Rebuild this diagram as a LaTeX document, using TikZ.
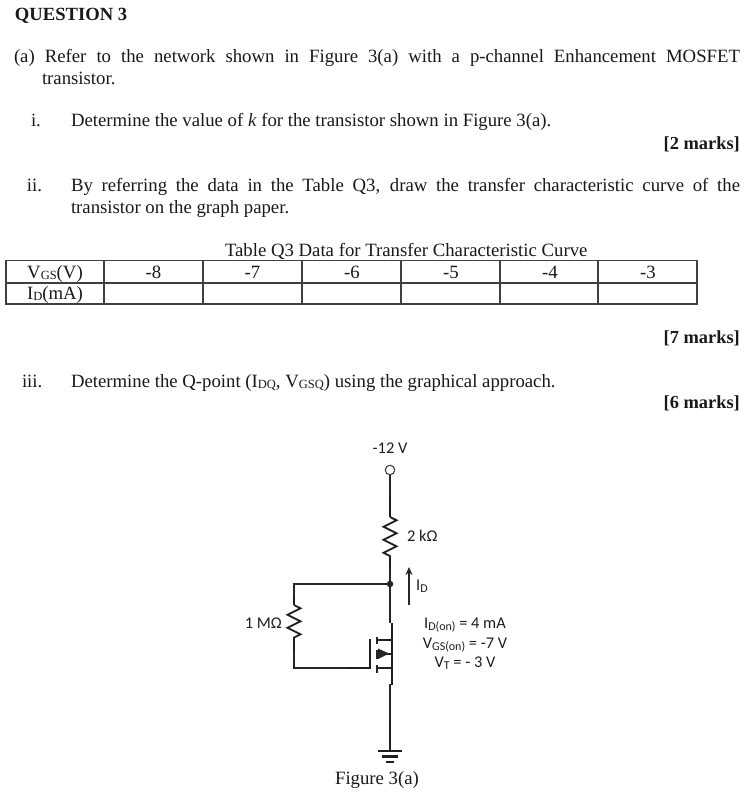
\documentclass[tikz,border=0pt]{standalone}
\usepackage{fontspec}
\setmainfont{Liberation Serif}
\newfontfamily\circfont{Carlito}
\usetikzlibrary{decorations.pathmorphing,arrows.meta}
\newcommand{\tsub}[1]{\raisebox{-0.15ex}{\fontsize{12.5}{14}\selectfont #1}}
\newcommand{\csub}[1]{\raisebox{-0.35ex}{\fontsize{12}{13}\selectfont #1}}
\tikzset{
  txt/.style={anchor=base west,inner sep=0pt,outer sep=0pt,font=\fontsize{18.75}{22}\selectfont,text=black!90},
  marksnode/.style={anchor=base east,inner sep=0pt,font=\fontsize{18.4}{22}\bfseries\selectfont,text=black!90},
  cell/.style={anchor=base,inner sep=0pt,font=\fontsize{18.75}{22}\selectfont,text=black!90},
  clab/.style={anchor=base,inner sep=0pt,font=\circfont\fontsize{16.4}{19}\selectfont,text=black!88},
  grid/.style={draw=black!75,line width=1.2pt},
  wire/.style={draw=black!85,line width=1.4pt},
  thick wire/.style={draw=black!88,line width=2pt},
  res/.style={draw=black!88,line width=1.8pt,decorate,decoration={zigzag,segment length=13pt,amplitude=6.5pt}}
}
\begin{document}
\begin{tikzpicture}[x=1pt,y=-1pt]
\useasboundingbox (0,0) rectangle (744,793);
\fill[white] (0,0) rectangle (744,793);
% text
\node[txt,font=\fontsize{18.6}{22}\bfseries\selectfont] (q) at (15,20) {QUESTION 3};
\node[txt] (a1) at (14,62.5) {\makebox[726pt][s]{(a) Refer to the network shown in Figure 3(a) with a p-channel Enhancement MOSFET}};
\node[txt] (a2) at (42,84.5) {transistor.};
\node[txt] (i1) at (31,126.5) {i.};
\node[txt] (i2) at (71,126.5) {Determine the value of \textit{k} for the transistor shown in Figure 3(a).};
\node[marksnode] (m1) at (740,149.5) {[2 marks]};
\node[txt] (ii1) at (27,191.5) {ii.};
\node[txt] (ii2) at (71,191.5) {\makebox[669pt][s]{By referring the data in the Table Q3, draw the transfer characteristic curve of the}};
\node[txt] (ii3) at (71,213.5) {transistor on the graph paper.};
\node[txt] (cap) at (225,256.5) {Table Q3 Data for Transfer Characteristic Curve};
\node[marksnode] (m2) at (740,343.5) {[7 marks]};
\node[txt] (iii1) at (22,387.5) {iii.};
\node[txt] (iii2) at (71,387.5) {Determine the Q-point (I\tsub{DQ}, V\tsub{GSQ}) using the graphical approach.};
\node[marksnode] (m3) at (740,408.5) {[6 marks]};
% table
\draw[grid] (6,260.5) rectangle (697,304);
\draw[grid] (6,283) -- (697,283);
\foreach \x in {104,203,302,401,500,598} \draw[grid] (\x,260.5) -- (\x,304);
\node[cell] (v) at (55,278) {V\tsub{GS}(V)};
\node[cell] (i) at (55,299.5) {I\tsub{D}(mA)};
\node[cell] (c1) at (153.5,278) {-8};
\node[cell] (c2) at (252.5,278) {-7};
\node[cell] (c3) at (352,278) {-6};
\node[cell] (c4) at (451,278) {-5};
\node[cell] (c5) at (550,278) {-4};
\node[cell] (c6) at (648,278) {-3};
% circuit points
\node[circle,draw=black!75,line width=1.1pt,fill=white,minimum size=9.5pt,inner sep=0pt] (term) at (390,470) {};
\coordinate (ra) at (390,517);
\coordinate (rb) at (390,557);
\node[circle,fill=black!85,minimum size=6.5pt,inner sep=0pt] (j) at (390,584) {};
\coordinate (corner) at (294,584);
\coordinate (ga) at (294,605);
\coordinate (gb) at (294,643);
\coordinate (corner2) at (294,668);
\coordinate (gate) at (370,668);
\coordinate (gtop) at (370,639);
\coordinate (dc) at (392,640);
\coordinate (sc) at (392,668);
\coordinate (mid) at (392,653.5);
\coordinate (gnd) at (390,751);
\draw[wire] (term) -- (390,497);
\draw[thick wire] (390,497) -- (ra);
\draw[res] (ra) -- (rb);
\draw[thick wire] (rb) -- (390,567);
\draw[wire] (390,567) -- (j);
\draw[wire] (j) -- (corner) -- (294,596);
\draw[thick wire] (294,596) -- (ga);
\draw[res] (ga) -- (gb);
\draw[thick wire] (gb) -- (294,652);
\draw[wire] (294,652) -- (corner2) -- (347,668);
\draw[thick wire] (347,668) -- (gate) -- (gtop);
\draw[wire] (j) -- (390,623);
\draw[thick wire] (392,623) -- (dc) -- (377,640);
\draw[thick wire] (377,668) -- (sc);
\draw[thick wire] (377,653.5) -- (mid);
\draw[thick wire] (dc) -- (mid) -- (sc);
\draw[thick wire] (sc) -- (392,685);
\draw[wire] (390,684) -- (390,720);
\draw[thick wire] (390,720) -- (gnd);
\draw[line width=2.6pt,draw=black!85] (377,636.5) -- (377,643.5) (377,649.5) -- (377,659) (377,664.5) -- (377,673);
\fill[black!85] (378,648.5) -- (389,653.5) -- (378,659) -- cycle;
\draw[line width=2.4pt,draw=black!88] (378,751) -- (402,751);
\draw[line width=2.4pt,draw=black!88] (382,756.5) -- (398,756.5);
\draw[line width=2.4pt,draw=black!88] (386,762) -- (394,762);
\coordinate (ida) at (409,605);
\coordinate (idb) at (409,567);
\draw[wire,-{Stealth[length=8pt,width=7pt]}] (ida) -- (idb);
% circuit labels
\node[clab] (l12) at (390,453.5) {-12 V};
\node[clab,anchor=base west] (l2k) at (407,541) {2 kΩ};
\node[clab,anchor=base west] (lid) at (416,590) {I\csub{D}};
\node[clab,anchor=base east] (l1m) at (282,628) {1 MΩ};
\node[clab] (e1) at (465,628) {I\csub{D(on)} = 4 mA};
\node[clab] (e2) at (465,648) {V\csub{GS(on)} = -7 V};
\node[clab] (e3) at (465,667) {V\csub{T} = - 3 V};
\node[cell] (fig) at (377,784) {Figure 3(a)};
\end{tikzpicture}
\end{document}
